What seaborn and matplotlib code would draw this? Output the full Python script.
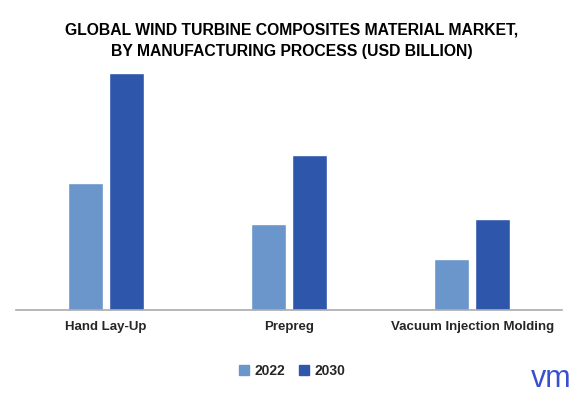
import pandas as pd
import matplotlib
matplotlib.use("Agg")
import matplotlib.pyplot as plt
import seaborn as sns

# Chart data
processes = ["Hand Lay-Up", "Prepreg", "Vacuum Injection Molding"]
years = ["2022", "2030"]
values_2022 = [1.27, 0.86, 0.51]
values_2030 = [2.37, 1.55, 0.91]

df = pd.DataFrame({
    "process": processes * 2,
    "year": [years[0]] * 3 + [years[1]] * 3,
    "value": values_2022 + values_2030,
})

sns.set_style("white")
plt.rcParams["font.family"] = ["Liberation Sans", "DejaVu Sans"]

fig = plt.figure(figsize=(5.82, 3.98), dpi=100)
ax = fig.add_axes([0.0275, 0.221, 0.938, 0.603])

palette = {"2022": "#6a96cb", "2030": "#2e56ab"}
sns.barplot(data=df, x="process", y="value", hue="year", palette=palette,
            width=0.45, gap=0.15, saturation=1, ax=ax, legend=False)

ax.set_xlim(-0.49, 2.49)
ax.set_ylim(0, 2.40)
ax.set_xlabel("")
ax.set_ylabel("")
ax.set_yticks([])
ax.tick_params(axis="x", length=0, pad=8, labelsize=9.5)
for lbl in ax.get_xticklabels():
    lbl.set_fontweight("bold")
for side in ["top", "left", "right"]:
    ax.spines[side].set_visible(False)
ax.spines["bottom"].set_color("#aaaaaa")
ax.spines["bottom"].set_linewidth(1.2)

fig.text(0.501, 0.897, "GLOBAL WIND TURBINE COMPOSITES MATERIAL MARKET,\nBY MANUFACTURING PROCESS (USD BILLION)",
         ha="center", va="center", fontsize=11.3, fontweight="bold", linespacing=1.5, color="black")

# legend
handles = [plt.Rectangle((0, 0), 1, 1, color=palette[y]) for y in years]
fig.legend(handles, years, loc="center", bbox_to_anchor=(0.502, 0.068), ncol=2, frameon=False,
           handlelength=0.7, handleheight=0.7, handletextpad=0.4, columnspacing=1.0,
           prop={"weight": "bold", "size": 10})

# logo
fig.text(0.947, 0.048, "vm", ha="center", va="center", fontsize=22, color="#3a4fd0")

fig.savefig("out.png", dpi=100)
